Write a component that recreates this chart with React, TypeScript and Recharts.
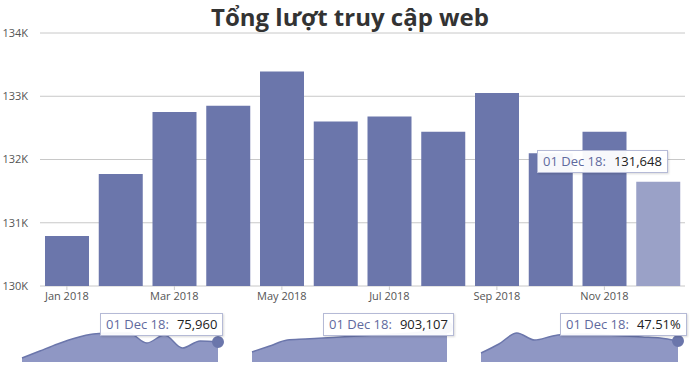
import React from "react";
import {
  Area,
  AreaChart,
  Bar,
  BarChart,
  CartesianGrid,
  Tooltip,
  XAxis,
  YAxis,
} from "recharts";

const months = [
  "Jan 2018", "Feb 2018", "Mar 2018", "Apr 2018", "May 2018", "Jun 2018",
  "Jul 2018", "Aug 2018", "Sep 2018", "Oct 2018", "Nov 2018", "Dec 2018",
];
const tipDates = [
  "01 Jan 18", "01 Feb 18", "01 Mar 18", "01 Apr 18", "01 May 18", "01 Jun 18",
  "01 Jul 18", "01 Aug 18", "01 Sep 18", "01 Oct 18", "01 Nov 18", "01 Dec 18",
];
const visits = [
  130790, 131770, 132750, 132850, 133390, 132600,
  132680, 132440, 133050, 132100, 132440, 131648,
];
const yTicks = [130000, 131000, 132000, 133000, 134000];

const pageViews = [68000, 71500, 75000, 78000, 80000, 80500, 80500, 75500, 79500, 73000, 76500, 75960];
const sessions = [758333, 793333, 828333, 834000, 840000, 845800, 851700, 857500, 863300, 869000, 880800, 903107];
const bounceRate = [37.5, 45, 54.2, 48.3, 51.7, 53.3, 53.3, 52.5, 51.7, 50.8, 50, 47.51];

const barColor = "#6b76ab";
const activeColor = "#9aa1c7";
const font = "'Open Sans', sans-serif";

const mainData = months.map((m, i) => ({ month: m, tip: tipDates[i], value: visits[i] }));

function TipBox({ active, payload, fmt }: any) {
  if (!active || !payload || !payload.length) return null;
  const p = payload[0].payload;
  return (
    <div
      style={{
        background: "rgba(255,255,255,0.95)",
        border: "1px solid #b5bad6",
        boxShadow: "1px 1px 2px rgba(0,0,0,0.15)",
        padding: "3px 5px",
        fontFamily: font,
        fontSize: 13,
        whiteSpace: "nowrap",
        lineHeight: "15px",
      }}
    >
      <span style={{ color: "#5f6a9e" }}>{p.tip}:</span>
      <span style={{ color: "#222", marginLeft: 8 }}>{fmt(p.value)}</span>
    </div>
  );
}

function Spark({ values, domain, left, width, fmt, tipX }: any) {
  const data = values.map((v: number, i: number) => ({ tip: tipDates[i], value: v }));
  return (
    <div style={{ position: "absolute", left: left - 6, top: 320 }}>
      <AreaChart
        width={width + 12}
        height={48}
        data={data}
        margin={{ top: 6, right: 6, bottom: 6, left: 6 }}
      >
        <XAxis dataKey="tip" hide />
        <YAxis hide domain={domain} />
        <Tooltip
          defaultIndex={11}
          cursor={false}
          position={{ x: tipX, y: -7 }}
          allowEscapeViewBox={{ x: true, y: true }}
          content={<TipBox fmt={fmt} />}
        />
        <Area
          type="monotone"
          dataKey="value"
          stroke={barColor}
          strokeWidth={1.5}
          fill="#8f97c4"
          fillOpacity={1}
          activeDot={{ r: 5, fill: barColor, stroke: barColor }}
          isAnimationActive={false}
        />
      </AreaChart>
    </div>
  );
}

export default function App() {
  const num = (v: number) => v.toLocaleString("en-US");
  return (
    <div style={{ position: "absolute", left: 0, top: 0, width: 700, height: 366, background: "#fff", overflow: "hidden" }}>
      <div style={{ position: "absolute", left: 0, top: 0 }}>
        <BarChart
          width={700}
          height={306}
          data={mainData}
          margin={{ top: 33, right: 15, bottom: 0, left: 6 }}
        >
          <CartesianGrid vertical={false} stroke="#c8c8c8" />
          <XAxis
            dataKey="month"
            height={20}
            interval={1}
            axisLine={false}
            tickLine={{ stroke: "#ccc" }}
            tickSize={4}
            tick={{ fontSize: 11, fill: "#555", fontFamily: font }}
          />
          <YAxis
            width={34}
            domain={[130000, 134000]}
            ticks={yTicks}
            axisLine={false}
            tickLine={false}
            tickMargin={6}
            tickFormatter={(v: number) => `${v / 1000}K`}
            tick={{ fontSize: 11, fill: "#555", fontFamily: font }}
          />
          <Tooltip
            defaultIndex={11}
            cursor={false}
            position={{ x: 537, y: 150 }}
            allowEscapeViewBox={{ x: true, y: true }}
            content={<TipBox fmt={num} />}
          />
          <Bar
            dataKey="value"
            fill={barColor}
            barSize={44}
            activeBar={{ fill: activeColor }}
            isAnimationActive={false}
          />
        </BarChart>
      </div>
      <div
        style={{
          position: "absolute",
          top: 0,
          left: 0,
          width: 700,
          textAlign: "center",
          fontFamily: font,
          fontWeight: 700,
          fontSize: 24,
          lineHeight: "normal",
          color: "#333",
        }}
      >
        Tổng lượt truy cập web
      </div>
      <Spark values={pageViews} domain={[66000, 84000]} left={22} width={196} fmt={num} tipX={84} />
      <Spark values={sessions} domain={[700000, 910000]} left={252} width={195} fmt={num} tipX={77} />
      <Spark values={bounceRate} domain={[30, 60]} left={481} width={197} fmt={(v: number) => `${v.toFixed(2)}%`} tipX={85} />
    </div>
  );
}
